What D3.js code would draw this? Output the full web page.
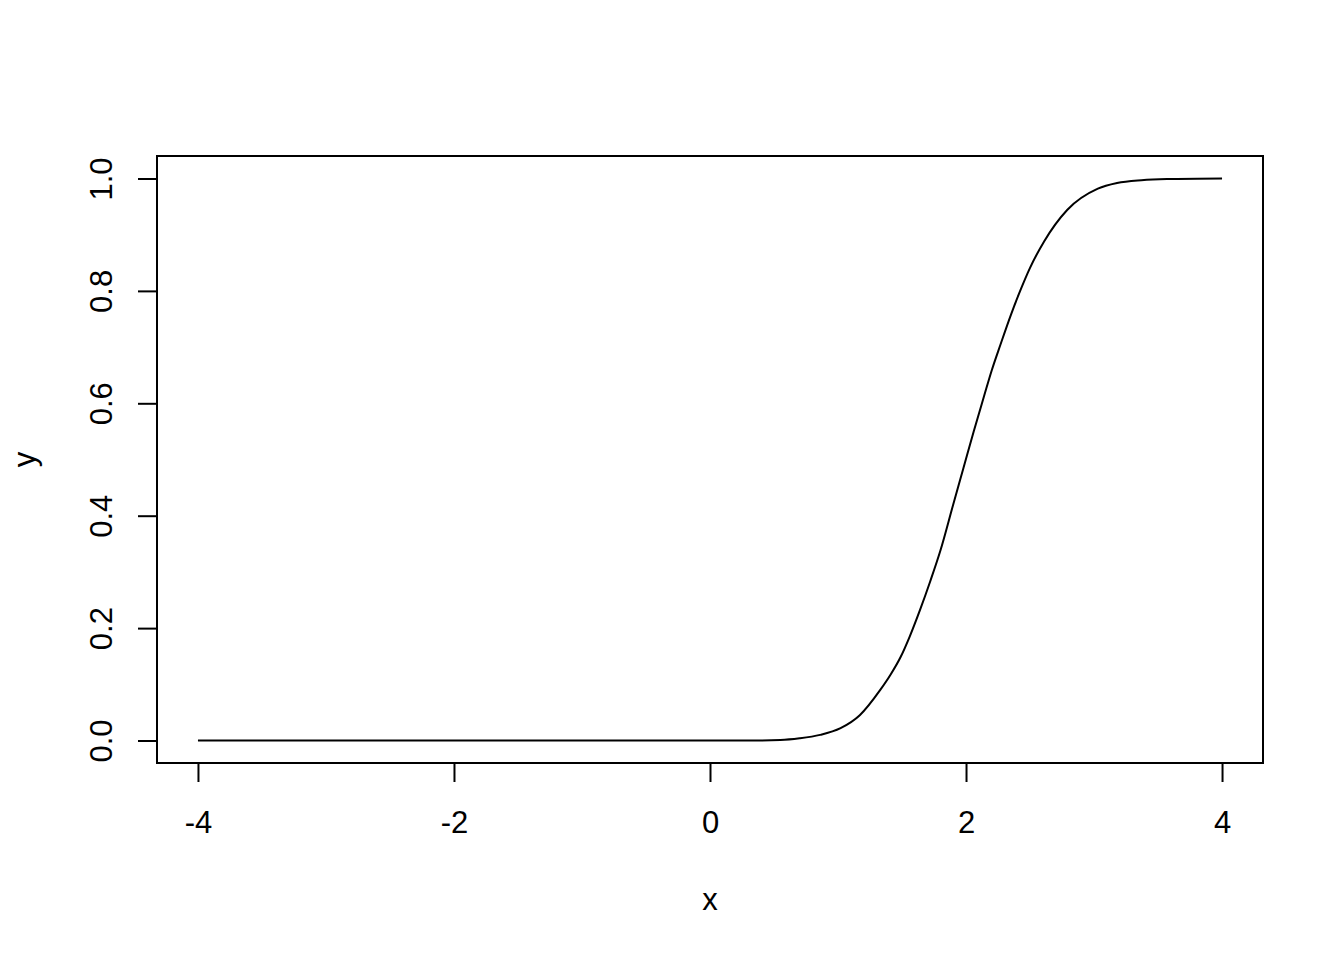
<!DOCTYPE html>
<html>
<head>
<meta charset="utf-8">
<script src="https://cdn.jsdelivr.net/npm/d3@7"></script>
<style>
  body { margin: 0; background: #fff; }
  svg text { font-family: "Liberation Sans", Arial, sans-serif; font-size: 31px; fill: #000; }
</style>
</head>
<body>
<svg id="chart" width="1344" height="960"></svg>
<script>
// points
const xs = [-4, 0.3, 0.55, 0.7, 0.86, 1.02, 1.17, 1.33, 1.41, 1.49, 1.56, 1.64, 1.72, 1.8,
            1.9, 1.98, 2.06, 2.14, 2.2, 2.27, 2.35, 2.43, 2.5, 2.61, 2.79, 3.03, 3.18, 3.37, 3.57, 4]
const ys = [0, 0, 0.001, 0.004, 0.010, 0.022, 0.045, 0.09, 0.117, 0.149, 0.185, 0.232, 0.283, 0.338,
            0.42, 0.485, 0.55, 0.612, 0.658, 0.705, 0.757, 0.804, 0.841, 0.888, 0.944, 0.982, 0.992, 0.997, 0.999, 1]
const xTicks = [-4, -2, 0, 2, 4]
const yTicks = [0, 0.2, 0.4, 0.6, 0.8, 1.0]

const svg = d3.select("#chart")
const plotLeft = 157, plotRight = 1263, plotTop = 156, plotBottom = 763

const x = d3.scaleLinear().domain([-4.32, 4.32]).range([plotLeft, plotRight])
const y = d3.scaleLinear().domain([-0.04, 1.04]).range([plotBottom, plotTop])

const pts = xs.map((v, i) => ({ x: v, y: ys[i] }))

// curve
svg.append("path")
  .datum(pts)
  .attr("fill", "none")
  .attr("stroke", "#000")
  .attr("stroke-width", 2)
  .attr("d", d3.line().curve(d3.curveMonotoneX).x(d => x(d.x)).y(d => y(d.y)))

// x axis
const gx = svg.append("g")
  .attr("transform", `translate(0,${plotBottom})`)
  .call(d3.axisBottom(x).tickValues(xTicks).tickSize(19).tickPadding(29).tickFormat(d3.format("d")))
gx.select(".domain").remove()
gx.selectAll("line").attr("stroke", "#000").attr("stroke-width", 2)
gx.selectAll("text").attr("font-size", null).attr("font-family", null).text(d => d < 0 ? "-" + Math.abs(d) : d)
gx.append("line")
  .attr("x1", x(xTicks[0])).attr("x2", x(xTicks[xTicks.length - 1]))
  .attr("stroke", "#000").attr("stroke-width", 2)

// y axis
const gy = svg.append("g")
  .attr("transform", `translate(${plotLeft},0)`)
  .call(d3.axisLeft(y).tickValues(yTicks).tickSize(19).tickFormat(d3.format(".1f")))
gy.select(".domain").remove()
gy.selectAll("line").attr("stroke", "#000").attr("stroke-width", 2)
gy.selectAll("text")
  .attr("font-size", null).attr("font-family", null)
  .attr("x", null).attr("dy", null)
  .attr("text-anchor", "middle")
  .attr("transform", "translate(-45,0) rotate(-90)")
gy.append("line")
  .attr("y1", y(yTicks[0])).attr("y2", y(yTicks[yTicks.length - 1]))
  .attr("stroke", "#000").attr("stroke-width", 2)

// box
svg.append("rect")
  .attr("x", plotLeft).attr("y", plotTop)
  .attr("width", plotRight - plotLeft).attr("height", plotBottom - plotTop)
  .attr("fill", "none").attr("stroke", "#000").attr("stroke-width", 2)

// axis titles
svg.append("text")
  .attr("x", (plotLeft + plotRight) / 2).attr("y", 910)
  .attr("text-anchor", "middle")
  .text("x")
svg.append("text")
  .attr("text-anchor", "middle")
  .attr("transform", `translate(34.5,${(plotTop + plotBottom) / 2}) rotate(-90)`)
  .text("y")
</script>
</body>
</html>
